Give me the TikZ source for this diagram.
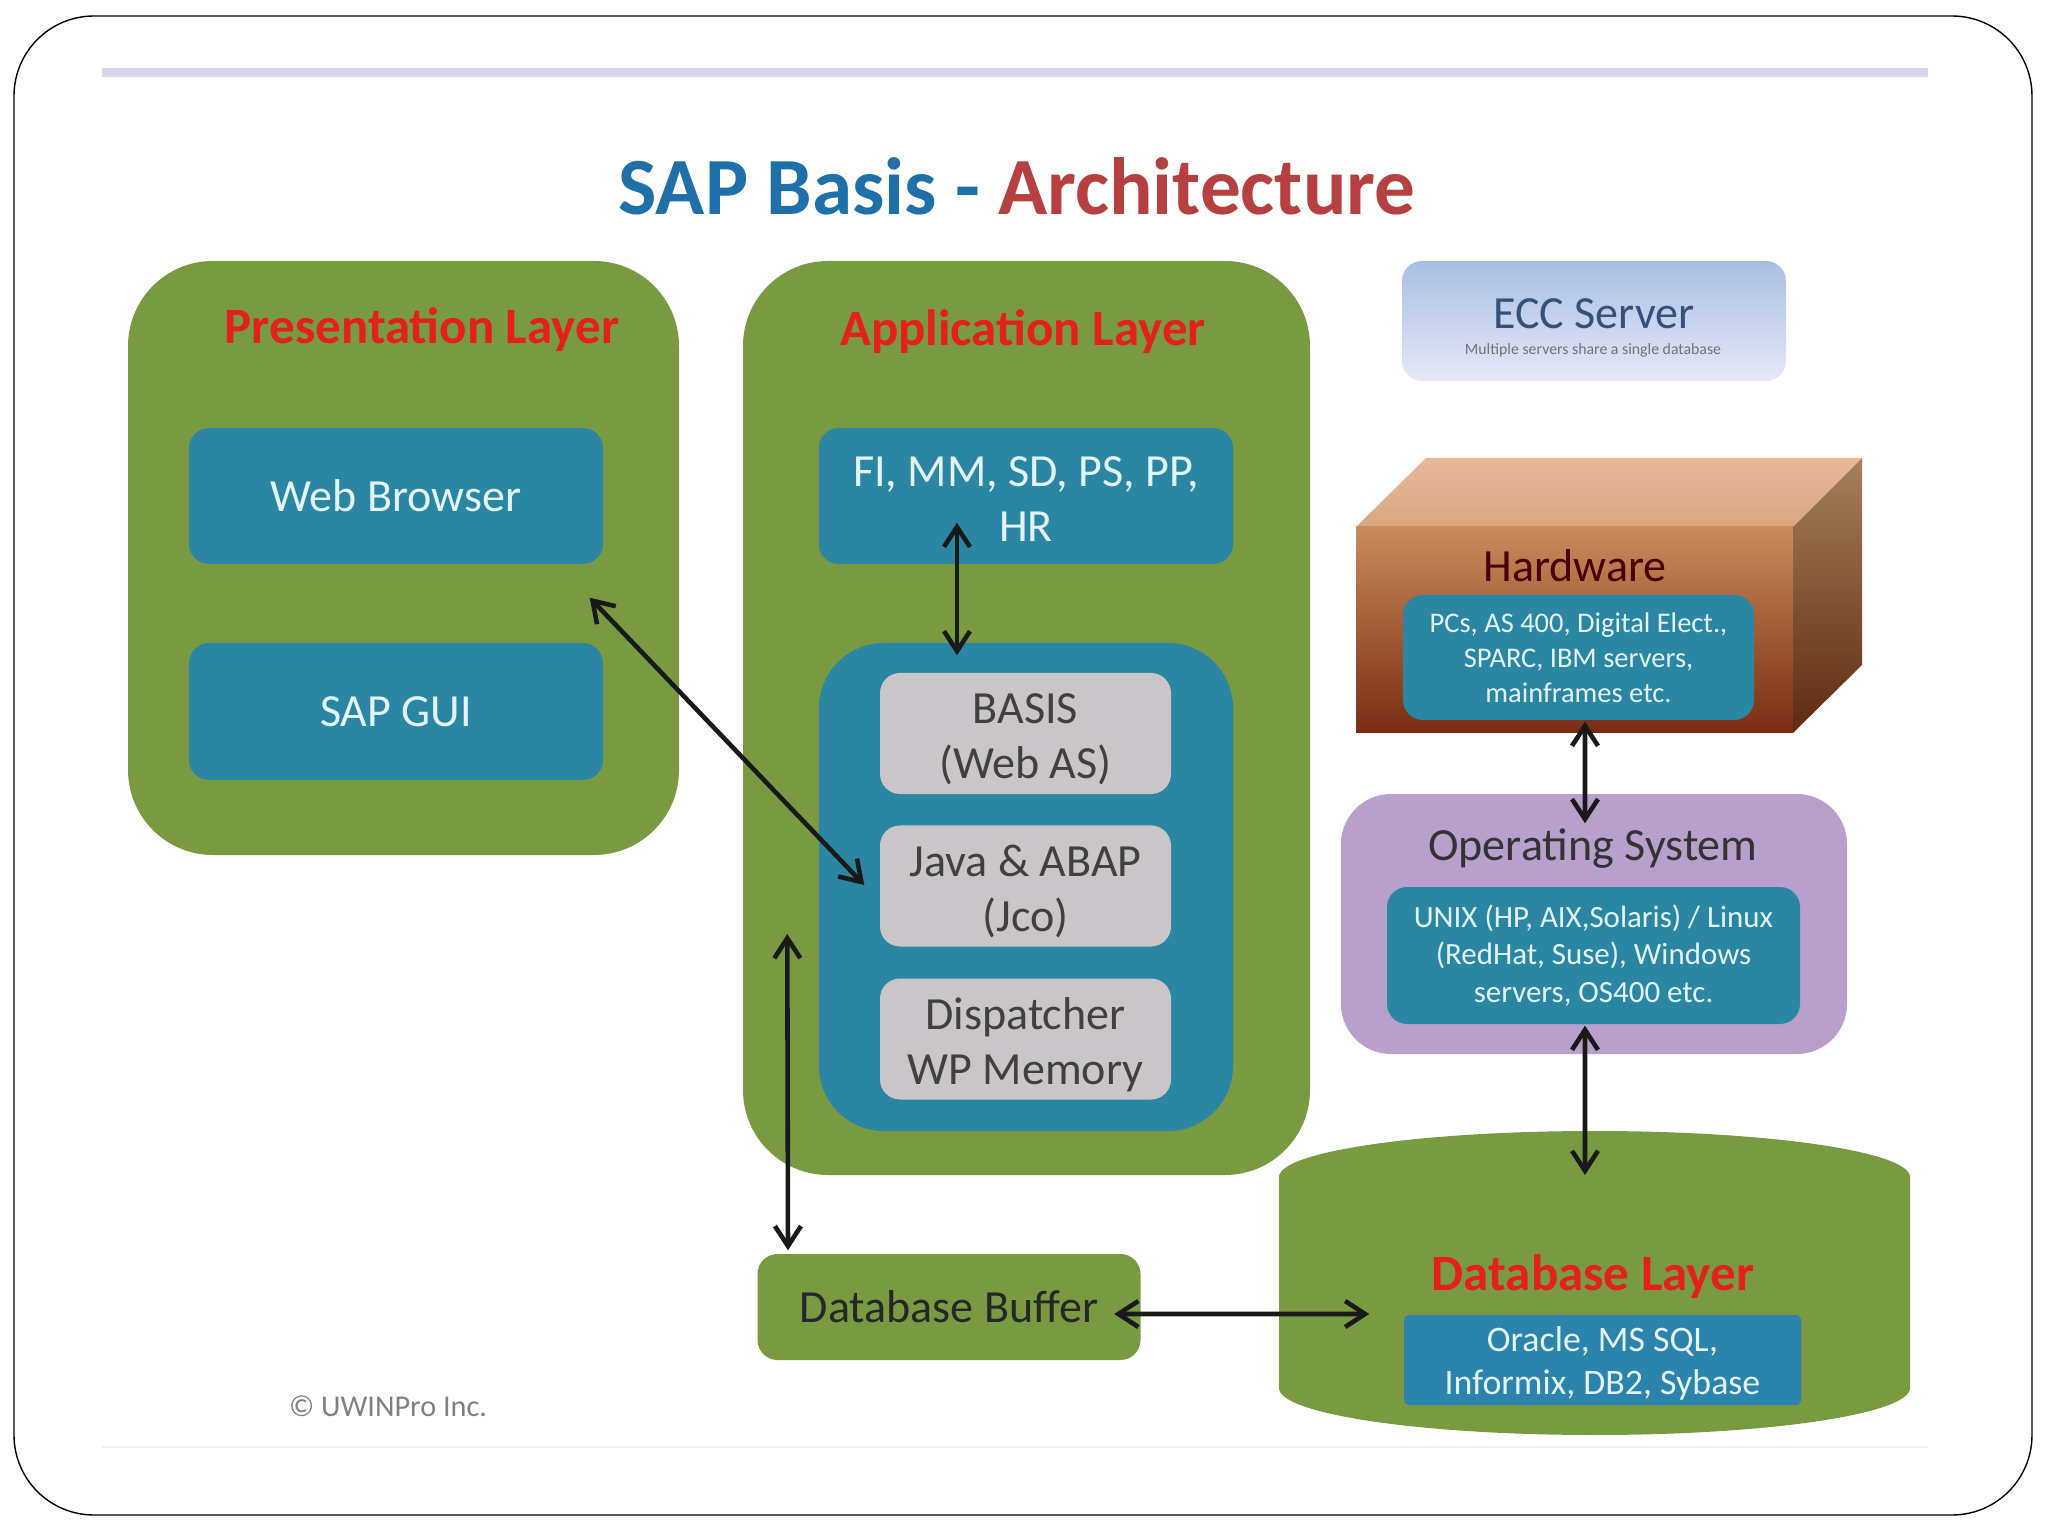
\documentclass[tikz,border=0pt]{standalone}
\usepackage{fontspec}
\setmainfont{Carlito}
\usetikzlibrary{calc,positioning,arrows.meta}

\definecolor{layergreen}{HTML}{7A9A42}
\definecolor{tealbox}{HTML}{2B86A4}
\definecolor{dbteal}{HTML}{2C84AC}
\definecolor{greybox}{HTML}{C9C5C9}
\definecolor{osviolet}{HTML}{B8A0CC}
\definecolor{titleblue}{HTML}{1F6FA8}
\definecolor{titlered}{HTML}{B5403F}
\definecolor{layerred}{HTML}{E3201B}
\definecolor{paleteal}{HTML}{E2F4F6}
\definecolor{barviolet}{HTML}{D6D6E8}
\definecolor{ecctop}{HTML}{A9BDE4}
\definecolor{eccbottom}{HTML}{E6E9F6}
\definecolor{ecctext}{HTML}{35507A}
\definecolor{boxtopback}{HTML}{E8B89C}
\definecolor{boxtopfront}{HTML}{D8A67E}
\definecolor{boxfronttop}{HTML}{C98B5C}
\definecolor{boxfrontbottom}{HTML}{7A2C12}
\definecolor{boxsidetop}{HTML}{A88058}
\definecolor{boxsidebottom}{HTML}{5E2A10}

\newcommand{\fs}[2]{\fontsize{#1}{#2}\selectfont}

\tikzset{
  layerbox/.style={fill=layergreen,rounded corners=0.85cm,inner sep=0pt},
  tealnode/.style={fill=tealbox,rounded corners=0.2cm,text=paleteal,align=center,inner sep=0pt,font=\fs{13.1}{15.6}},
  greynode/.style={fill=greybox,rounded corners=0.2cm,inner sep=0pt,minimum width=2.91cm,minimum height=1.21cm},
  greytext/.style={text=black!75,align=center,inner sep=0pt,font=\fs{13.1}{15.6},yshift=-0.055cm},
  layertitle/.style={text=layerred,font=\fs{14.5}{16}\bfseries,inner sep=0pt},
  plaintitle/.style={font=\fs{13.1}{16},inner sep=0pt},
  bothways/.style={{Straight Barb[length=2mm,width=2.6mm]}-{Straight Barb[length=2mm,width=2.6mm]},line width=1.3pt,black!90}
}

\begin{document}
\begin{tikzpicture}[y=-1cm]
\useasboundingbox (0,0) rectangle (20.48,15.36);
\node [draw=black,line width=0.4pt,rounded corners=0.8cm,minimum width=20.18cm,minimum height=14.99cm,inner sep=0pt] (frame) at (10.23,7.655) {};
\node [fill=barviolet,minimum width=18.26cm,minimum height=0.09cm,inner sep=0pt] (topbar) at (10.15,0.725) {};
\node [fill=black!6,minimum width=18.26cm,minimum height=0.02cm,inner sep=0pt] (bottomline) at (10.15,14.47) {};

\node [inner sep=0pt,font=\fs{23.1}{24}\bfseries] (title) at (10.17,1.86) {\textcolor{titleblue}{SAP Basis -} \textcolor{titlered}{Architecture}};

\node [layerbox,minimum width=5.51cm,minimum height=5.94cm] (presentation) at (4.035,5.58) {};
\node [layerbox,minimum width=5.67cm,minimum height=9.14cm] (application) at (10.265,7.18) {};
\node [layertitle] (presentationtitle) at (4.22,3.30) {Presentation Layer};
\node [layertitle] (applicationtitle) at (10.23,3.32) {Application Layer};

\node [tealnode,minimum width=4.14cm,minimum height=1.36cm] (webbrowser) at (3.96,4.96) {Web Browser};
\node [tealnode,minimum width=4.14cm,minimum height=1.37cm] (sapgui) at (3.96,7.115) {SAP GUI};
\node [tealnode,minimum width=4.14cm,minimum height=1.36cm,label={[text=paleteal,align=center,inner sep=0pt,font=\fs{13.1}{15.6},yshift=-0.03cm,name=modulestext]center:FI, MM, SD, PS, PP,\\HR}] (modules) at (10.26,4.96) {};
\node [tealnode,rounded corners=0.65cm,minimum width=4.14cm,minimum height=4.88cm] (abapstack) at (10.26,8.87) {};
\node [greynode,label={[greytext,name=basistext]center:BASIS\\(Web AS)}] (basis) at (10.255,7.335) {};
\node [greynode,label={[greytext,name=javatext]center:Java \& ABAP\\(Jco)}] (java) at (10.255,8.86) {};
\node [greynode,label={[greytext,name=dispatchertext]center:Dispatcher\\WP Memory}] (dispatcher) at (10.255,10.39) {};

\node [rounded corners=0.2cm,top color=ecctop,bottom color=eccbottom,minimum width=3.84cm,minimum height=1.2cm,inner sep=0pt] (ecc) at (15.94,3.21) {};
\node [plaintitle,text=ecctext] (ecctitle) at (15.94,3.14) {ECC Server};
\node [inner sep=0pt,text=black!55,font=\fs{4.5}{5}] (eccnote) at (15.93,3.50) {Multiple servers share a single database};

\shade [top color=boxtopback,bottom color=boxtopfront] (13.56,5.27) -- (14.26,4.58) -- (18.62,4.58) -- (17.93,5.27) -- cycle;
\shade [top color=boxfronttop,bottom color=boxfrontbottom] (13.56,5.27) rectangle (17.93,7.33);
\shade [top color=boxsidetop,bottom color=boxsidebottom] (17.93,5.27) -- (18.62,4.58) -- (18.62,6.65) -- (17.93,7.33) -- cycle;
\node [plaintitle,text=red!30!black] (hardwaretitle) at (15.75,5.66) {Hardware};
\node [tealnode,font=\fs{8.1}{9.9},minimum width=3.51cm,minimum height=1.25cm] (hardware) at (15.785,6.575) {PCs, AS 400, Digital Elect.,\\SPARC, IBM servers,\\mainframes etc.};

\node [fill=osviolet,rounded corners=0.5cm,minimum width=5.06cm,minimum height=2.6cm,inner sep=0pt] (ossystem) at (15.94,9.24) {};
\node [plaintitle,text=black!80] (ostitle) at (15.93,8.49) {Operating System};
\node [tealnode,font=\fs{8.8}{10.6},minimum width=4.13cm,minimum height=1.37cm] (osinner) at (15.935,9.555) {UNIX (HP, AIX,Solaris) / Linux\\(RedHat, Suse), Windows\\servers, OS400 etc.};

\fill [layergreen] (12.79,11.77) arc [start angle=180,delta angle=180,x radius=3.155,y radius=0.46] -- (19.10,13.88) arc [start angle=0,delta angle=180,x radius=3.155,y radius=0.47] -- cycle;
\coordinate (database) at (15.945,12.83);
\node [layertitle] (databasetitle) at (15.93,12.77) {Database Layer};
\node [tealnode,rounded corners=0.05cm,fill=dbteal,minimum width=3.97cm,minimum height=0.9cm,label={[text=paleteal,align=center,inner sep=0pt,font=\fs{10.2}{12.3},yshift=-0.035cm,name=dbinnertext]center:Oracle, MS SQL,\\Informix, DB2, Sybase}] (dbinner) at (16.025,13.6) {};

\node [fill=layergreen,rounded corners=0.2cm,text=black!85,minimum width=3.83cm,minimum height=1.06cm,inner sep=0pt,font=\fs{13.1}{15.6}] (dbbuffer) at (9.49,13.07) {Database Buffer};

\node [inner sep=0pt,text=black!50,font=\fs{8.6}{10}] (copyright) at (3.88,14.06) {© UWINPro Inc.};

\draw [bothways] ([shift={(-0.14,0.33)}]webbrowser.south east) -- ([shift={(-0.15,-0.01)}]java.west);
\draw [bothways] ([shift={(-0.69,-0.42)}]modules.south) -- ([shift={(-0.69,0.13)}]abapstack.north);
\draw [bothways] ([shift={(0.45,2.16)}]application.west) -- ([shift={(-1.61,-0.03)}]dbbuffer.north);
\draw [bothways] ([shift={(-0.27,0.07)}]dbbuffer.east) -- ([shift={(-0.34,-0.46)}]dbinner.west);
\draw [bothways] ([shift={(0.065,0.01)}]hardware.south) -- ([shift={(-0.09,0.30)}]ossystem.north);
\draw [bothways] ([shift={(-0.085,0.01)}]osinner.south) -- ([shift={(-0.095,-1.08)}]database);
\end{tikzpicture}
\end{document}
